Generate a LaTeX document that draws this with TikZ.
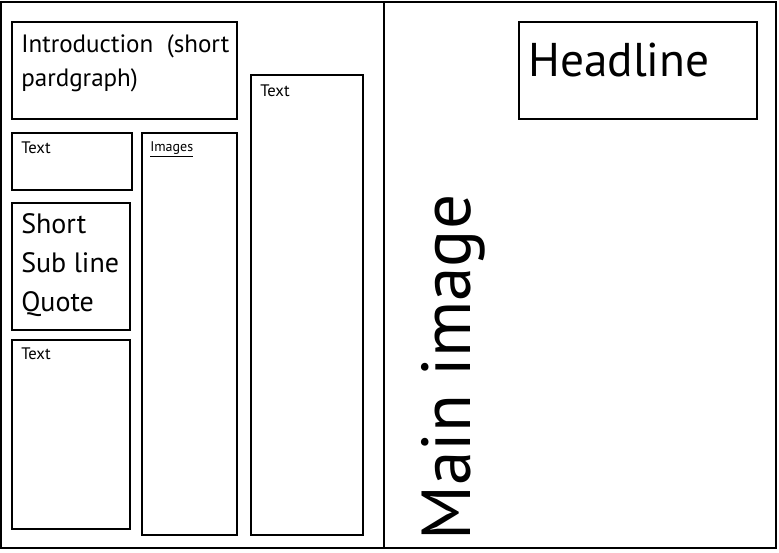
\documentclass[tikz,border=0pt]{standalone}
\usepackage{fontspec}
\setmainfont{PT Sans}
\usepackage{tikz}

\tikzset{
  box/.style={draw, line width=1pt},
  lbl/.style={anchor=base west, inner sep=0pt, font=\fontsize{12.5}{15}\selectfont},
}

\begin{document}
\begin{tikzpicture}[x=0.75pt,y=-0.75pt]
      \useasboundingbox (0,0) rectangle (779,553);
      \draw[box] (1,2) rectangle (776,548);
      \draw[box] (384,2) -- (384,548);
      % left page
      \draw[box] (12,22) rectangle (237,119);
      \draw[box] (12,133) rectangle (132,190);
      \draw[box] (12,203) rectangle (130,330);
      \draw[box] (12,340) rectangle (130,529);
      \draw[box] (142,133) rectangle (237,535);
      \draw[box] (251,75) rectangle (363,535);
      \node[lbl, font=\fontsize{18.8}{25.5}\selectfont, align=left, anchor=north west]
        (intro) at (21,34) {Introduction\ \ (short\\pardgraph)};
      \node[lbl] (text1) at (21,153) {Text};
      \node[lbl, font=\fontsize{21}{29.25}\selectfont, align=left, anchor=north west]
        (quote) at (21,213) {Short\\Sub line\\Quote};
      \node[lbl] (text2) at (21,359) {Text};
      \node[lbl, font=\fontsize{10.5}{12}\selectfont] (images) at (150,151) {\underline{Images}};
      \node[lbl] (text3) at (260,96) {Text};
      % right page
      \draw[box] (519,22) rectangle (757,119);
      \node[lbl, font=\fontsize{35.5}{44}\selectfont] (head) at (528,76) {Headline};
      \node[lbl, font=\fontsize{52}{62}\selectfont, rotate=90] (main) at (470,541) {Main image};
    \end{tikzpicture}
\end{document}
